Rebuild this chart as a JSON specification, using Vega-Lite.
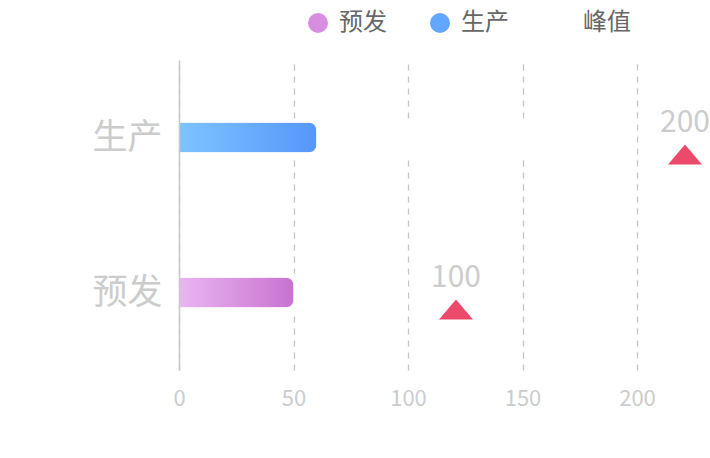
{
  "$schema": "https://vega.github.io/schema/vega-lite/v6.json",
  "width": 458,
  "height": 310,
  "autosize": {"type": "none"},
  "padding": {"left": 179, "top": 60, "right": 73, "bottom": 88},
  "config": {"view": {"stroke": null}, "font": "Noto Sans CJK SC"},
  "data": {
    "values": [
      {"cat": "生产", "series": "生产", "value": 60, "peak": 200},
      {"cat": "预发", "series": "预发", "value": 50, "peak": 100}
    ]
  },
  "encoding": {
    "y": {
      "field": "cat",
      "type": "nominal",
      "sort": ["生产", "预发"],
      "scale": {"paddingInner": 0, "paddingOuter": 0},
      "axis": {
        "title": null,
        "ticks": false,
        "tickSize": 0,
        "labelPadding": 17,
        "labelFontSize": 35,
        "labelColor": "#cccccc",
        "domainColor": "#c8c8c8",
        "domainWidth": 1.5,
        "grid": false,
        "zindex": 1
      }
    }
  },
  "layer": [
    {
      "mark": {"type": "bar", "height": 38, "fill": "#ffffff"},
      "encoding": {
        "x": {
          "field": "peak",
          "type": "quantitative",
          "scale": {"domain": [0, 200], "nice": false},
          "axis": {
            "title": null,
            "values": [0, 50, 100, 150, 200],
            "domain": false,
            "ticks": false,
            "tickSize": 0,
            "labelFlush": false,
            "labelPadding": 18,
            "labelFontSize": 22,
            "labelColor": "#cccccc",
            "grid": true,
            "gridColor": "#c4c4c4",
            "gridDash": [6, 6],
            "gridWidth": 1.3,
            "zindex": 0
          }
        }
      }
    },
    {
      "mark": {"type": "point", "filled": true, "opacity": 0},
      "encoding": {
        "x": {"field": "value", "type": "quantitative"},
        "color": {
          "field": "series",
          "type": "nominal",
          "scale": {
            "domain": ["预发", "生产", "峰值"],
            "range": ["#d88ee0", "#62a7ff", "#ffffff"]
          },
          "legend": {
            "title": null,
            "orient": "none",
            "direction": "horizontal",
            "legendX": 127,
            "legendY": -49,
            "padding": 0,
            "symbolType": "circle",
            "symbolSize": 400,
            "symbolOpacity": 1,
            "symbolStrokeWidth": 0,
            "labelFontSize": 24,
            "labelColor": "#666666",
            "labelOffset": 9,
            "columnPadding": 41
          }
        }
      }
    },
    {
      "mark": {"type": "bar", "height": 30, "cornerRadiusEnd": 8},
      "encoding": {
        "x": {"field": "value", "type": "quantitative"},
        "fill": {
          "condition": {
            "test": "datum.series === '生产'",
            "value": {
              "gradient": "linear",
              "x1": 0, "y1": 0, "x2": 1, "y2": 0,
              "stops": [
                {"offset": 0, "color": "#7dc4ff"},
                {"offset": 1, "color": "#5597fb"}
              ]
            }
          },
          "value": {
            "gradient": "linear",
            "x1": 0, "y1": 0, "x2": 1, "y2": 0,
            "stops": [
              {"offset": 0, "color": "#eab5f2"},
              {"offset": 1, "color": "#c873cf"}
            ]
          }
        }
      }
    },
    {
      "mark": {
        "type": "point",
        "shape": "M-1,1.59L1,1.59L0,0.41Z",
        "filled": true,
        "opacity": 1,
        "size": 1156,
        "color": "#ec4a6b"
      },
      "encoding": {
        "x": {"field": "peak", "type": "quantitative"},
        "xOffset": {"value": 48}
      }
    },
    {
      "mark": {"type": "text", "fontSize": 30, "color": "#cccccc", "baseline": "middle", "dy": -15},
      "encoding": {
        "x": {"field": "peak", "type": "quantitative"},
        "xOffset": {"value": 48},
        "text": {"field": "peak", "type": "quantitative"}
      }
    }
  ]
}
